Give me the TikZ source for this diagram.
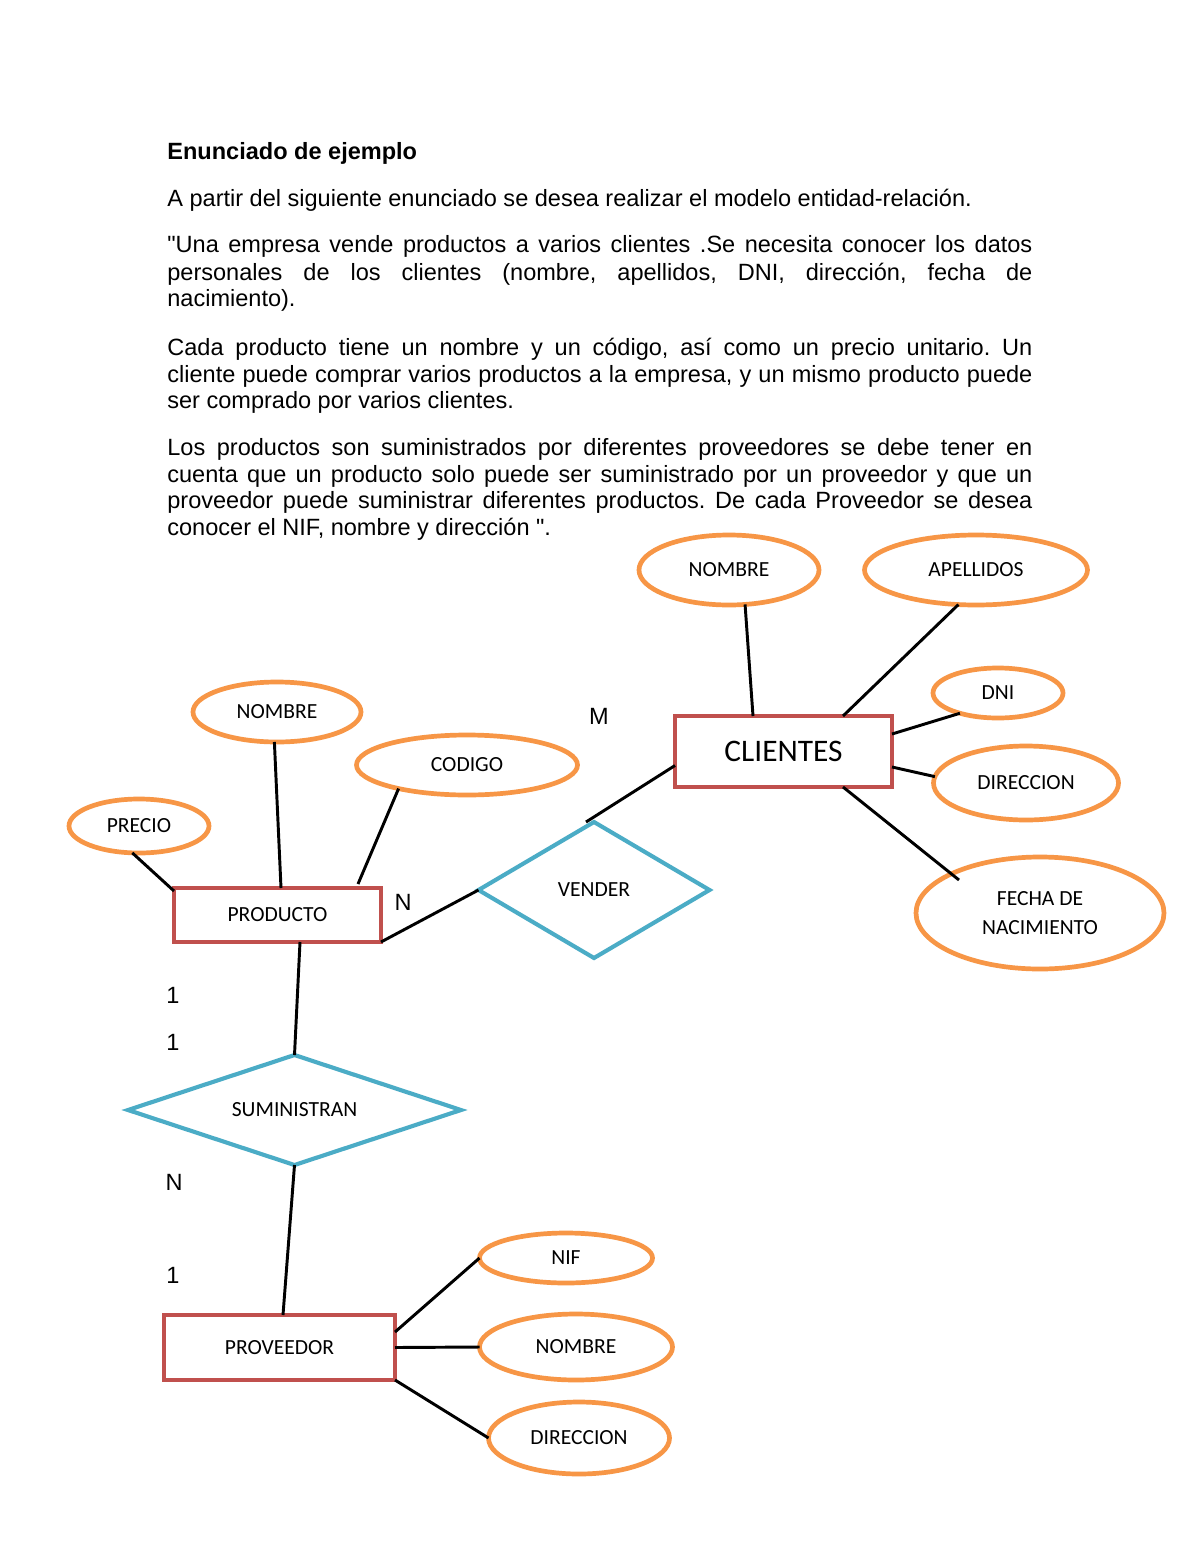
\documentclass[tikz,border=0pt]{standalone}
\usepackage{fontspec}
\setmainfont{Liberation Sans}[Ligatures=TeXOff]
\newfontfamily\calib{Carlito}
\usetikzlibrary{shapes.geometric,calc}
\newlength\pxl
\setlength\pxl{0.51pt}
\definecolor{attrorange}{HTML}{F79646}
\definecolor{entred}{HTML}{C0504D}
\definecolor{relblue}{HTML}{4BACC6}
\newcommand\jline[1]{\makebox[865\pxl][s]{#1}}
\tikzset{
  attr/.style={ellipse, draw=attrorange, line width=2.4pt, inner sep=0pt, outer sep=0pt,
    font=\calib\fontsize{11}{14.8}\selectfont, align=center},
  ent/.style={rectangle, draw=entred, line width=2.1pt, inner sep=0pt, outer sep=0pt,
    font=\calib\fontsize{11}{13}\selectfont},
  rel/.style={diamond, aspect=3, draw=relblue, line width=2.1pt, inner sep=0pt, outer sep=0pt,
    font=\calib\fontsize{11}{13}\selectfont},
  conn/.style={line width=1.5pt, draw=black},
  card/.style={font=\fontsize{12}{14}\selectfont, inner sep=0pt},
  body/.style={anchor=base west, inner sep=0pt, font=\frenchspacing\fontsize{12}{13.8}\selectfont},
}
\begin{document}
\begin{tikzpicture}[x=0.51pt, y=-0.51pt]
\useasboundingbox[fill=white] (0,0) rectangle (1200,1553);

% ---- text ----
\node[body, font=\bfseries\fontsize{12}{13.8}\selectfont] (l0) at (167,160) {Enunciado de ejemplo};
\node[body] (l1) at (167,207) {A partir del siguiente enunciado se desea realizar el modelo entidad-relación.};
\node[body] (l2) at (167,253) {\jline{"Una empresa vende productos a varios clientes .Se necesita conocer los datos}};
\node[body] (l3) at (167,280) {\jline{personales de los clientes (nombre, apellidos, DNI, dirección, fecha de}};
\node[body] (l4) at (167,306) {nacimiento).};
\node[body] (l5) at (167,355) {\jline{Cada producto tiene un nombre y un código, así como un precio unitario. Un}};
\node[body] (l6) at (167,382) {\jline{cliente puede comprar varios productos a la empresa, y un mismo producto puede}};
\node[body] (l7) at (167,408) {ser comprado por varios clientes.};
\node[body] (l8) at (167,455) {\jline{Los productos son suministrados por diferentes proveedores se debe tener en}};
\node[body] (l9) at (167,482) {\jline{cuenta que un producto solo puede ser suministrado por un proveedor y que un}};
\node[body] (l10) at (167,508) {\jline{proveedor puede suministrar diferentes productos. De cada Proveedor se desea}};
\node[body] (l11) at (167,535) {conocer el NIF, nombre y dirección ".};

% ---- CLIENTES ----
\node[ent, minimum width=217*\pxl, minimum height=71*\pxl, font=\calib\fontsize{16}{18}\selectfont] (cli) at (783.5,751.5) {CLIENTES};
\node[attr, minimum width=180*\pxl, minimum height=70*\pxl] (cnom) at (729,570) {NOMBRE};
\node[attr, minimum width=223*\pxl, minimum height=70*\pxl] (ape) at (976,570) {APELLIDOS};
\node[attr, minimum width=130*\pxl, minimum height=50*\pxl] (dni) at (998,693) {DNI};
\node[attr, minimum width=185*\pxl, minimum height=74*\pxl] (cdir) at (1026,783) {DIRECCION};
\node[attr, minimum width=248*\pxl, minimum height=112*\pxl] (fecha) at (1040,913) {FECHA DE\\NACIMIENTO};

% ---- VENDER ----
\node[rel, minimum width=231*\pxl, minimum height=136*\pxl] (vender) at (594,890) {VENDER};

% ---- PRODUCTO ----
\node[ent, minimum width=207*\pxl, minimum height=54*\pxl] (prod) at (277.5,915) {PRODUCTO};
\node[attr, minimum width=168*\pxl, minimum height=60*\pxl] (pnom) at (277,712) {NOMBRE};
\node[attr, minimum width=221*\pxl, minimum height=60*\pxl] (cod) at (467,765) {CODIGO};
\node[attr, minimum width=140*\pxl, minimum height=54*\pxl] (pre) at (139,826) {PRECIO};

% ---- SUMINISTRAN ----
\node[rel, minimum width=333*\pxl, minimum height=110*\pxl] (sum) at (294.5,1110) {SUMINISTRAN};

% ---- PROVEEDOR ----
\node[ent, minimum width=231*\pxl, minimum height=65*\pxl] (prov) at (279.5,1347.5) {PROVEEDOR};
\node[attr, minimum width=173*\pxl, minimum height=50*\pxl] (nif) at (566,1258) {NIF};
\node[attr, minimum width=193*\pxl, minimum height=66*\pxl] (vnom) at (576,1347) {NOMBRE};
\node[attr, minimum width=181*\pxl, minimum height=72*\pxl] (vdir) at (579,1438) {DIRECCION};

% ---- cardinalities ----
\node[card] (cM) at (599,716) {M};
\node[card] (cN1) at (403,902) {N};
\node[card] (c11) at (173,995) {1};
\node[card] (c12) at (173,1042) {1};
\node[card] (cN2) at (174,1182) {N};
\node[card] (c13) at (173,1275) {1};

% ---- connectors ----
\draw[conn] (cnom.-65) -- ($(cli.north west)+(78,0)$);
\draw[conn] (ape.-117) -- ($(cli.north west)+(168,0)$);
\draw[conn] (dni.-152) -- ($(cli.north east)+(0,18)$);
\draw[conn] (cdir.176) -- ($(cli.north east)+(0,51)$);
\draw[conn] ($(cli.south west)+(168,0)$) -- ($(fecha.center)+(-81,-33)$);
\draw[conn] ($(cli.west)+(0,14)$) -- ($(vender.north)+(-8,0)$);
\draw[conn] (vender.west) -- (prod.south east);
\draw[conn] (pnom.-95) -- ($(prod.north west)+(107,0)$);
\draw[conn] (cod.-161) -- ($(prod.north west)+(184,-4)$);
\draw[conn] (pre.-104) -- ($(prod.north west)+(0,3)$);
\draw[conn] ($(prod.south west)+(126,0)$) -- (sum.north);
\draw[conn] (sum.south) -- ($(prov.north west)+(119,0)$);
\draw[conn] ($(prov.north east)+(0,17)$) -- (nif.west);
\draw[conn] (prov.east) -- (vnom.west);
\draw[conn] (prov.south east) -- (vdir.west);
\end{tikzpicture}
\end{document}
